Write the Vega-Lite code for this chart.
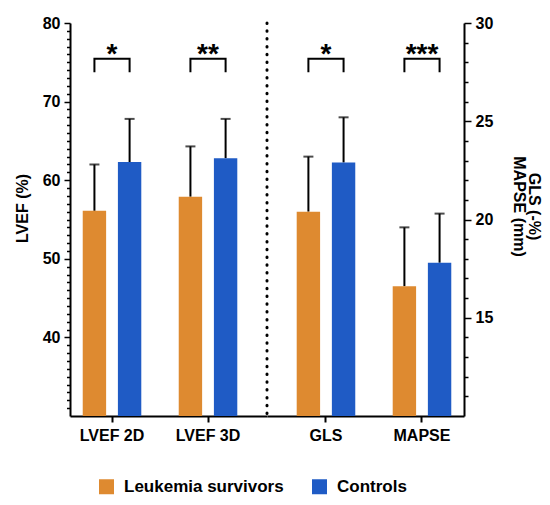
{
  "$schema": "https://vega.github.io/schema/vega-lite/v6.json",
  "padding": {"left": 14, "top": 15, "right": 5, "bottom": 5},
  "bounds": "flush",
  "spacing": 0,
  "datasets": {
    "left": [
      {"cat": "LVEF 2D", "group": "Leukemia survivors", "mean": 56.1, "upper": 62.0},
      {"cat": "LVEF 2D", "group": "Controls", "mean": 62.3, "upper": 67.8},
      {"cat": "LVEF 3D", "group": "Leukemia survivors", "mean": 57.9, "upper": 64.3},
      {"cat": "LVEF 3D", "group": "Controls", "mean": 62.8, "upper": 67.8}
    ],
    "right": [
      {"cat": "GLS", "group": "Leukemia survivors", "mean": 20.4, "upper": 23.2},
      {"cat": "GLS", "group": "Controls", "mean": 22.9, "upper": 25.2},
      {"cat": "MAPSE", "group": "Leukemia survivors", "mean": 16.6, "upper": 19.6},
      {"cat": "MAPSE", "group": "Controls", "mean": 17.8, "upper": 20.3}
    ],
    "leftBrackets": [
      {"cat": "LVEF 2D", "group": "Leukemia survivors", "y": 73.75, "step": 1},
      {"cat": "LVEF 2D", "group": "Leukemia survivors", "y": 75.45, "step": 2},
      {"cat": "LVEF 2D", "group": "Controls", "y": 75.45, "step": 3},
      {"cat": "LVEF 2D", "group": "Controls", "y": 73.75, "step": 4},
      {"cat": "LVEF 3D", "group": "Leukemia survivors", "y": 73.75, "step": 1},
      {"cat": "LVEF 3D", "group": "Leukemia survivors", "y": 75.45, "step": 2},
      {"cat": "LVEF 3D", "group": "Controls", "y": 75.45, "step": 3},
      {"cat": "LVEF 3D", "group": "Controls", "y": 73.75, "step": 4}
    ],
    "rightBrackets": [
      {"cat": "GLS", "group": "Leukemia survivors", "y": 27.5, "step": 1},
      {"cat": "GLS", "group": "Leukemia survivors", "y": 28.18, "step": 2},
      {"cat": "GLS", "group": "Controls", "y": 28.18, "step": 3},
      {"cat": "GLS", "group": "Controls", "y": 27.5, "step": 4},
      {"cat": "MAPSE", "group": "Leukemia survivors", "y": 27.5, "step": 1},
      {"cat": "MAPSE", "group": "Leukemia survivors", "y": 28.18, "step": 2},
      {"cat": "MAPSE", "group": "Controls", "y": 28.18, "step": 3},
      {"cat": "MAPSE", "group": "Controls", "y": 27.5, "step": 4}
    ],
    "leftStars": [
      {"cat": "LVEF 2D", "label": "*", "y": 74.9},
      {"cat": "LVEF 3D", "label": "**", "y": 74.9}
    ],
    "rightStars": [
      {"cat": "GLS", "label": "*", "y": 27.95},
      {"cat": "MAPSE", "label": "***", "y": 27.95}
    ]
  },
  "hconcat": [
    {
      "width": 197,
      "height": 393,
      "encoding": {
        "x": {
          "field": "cat",
          "type": "nominal",
          "title": null,
          "scale": {"domain": ["LVEF 2D", "LVEF 3D"], "paddingInner": 0.39, "paddingOuter": 0.221, "align": 0.3}
        },
        "xOffset": {
          "field": "group",
          "type": "nominal",
          "scale": {"domain": ["Leukemia survivors", "Controls"], "paddingInner": 0.335, "paddingOuter": 0}
        }
      },
      "layer": [
        {
          "data": {"name": "left"},
          "mark": {"type": "rule", "color": "black", "strokeWidth": 2},
          "encoding": {
            "y": {
              "field": "mean",
              "type": "quantitative",
              "title": "LVEF (%)",
              "scale": {"domain": [30, 80], "nice": false, "zero": false, "clamp": true},
              "axis": {
                "orient": "left",
                "values": [40, 50, 60, 70, 80],
                "tickSize": 6,
                "titlePadding": 12,
                "titleY": 185
              }
            },
            "y2": {"field": "upper"}
          }
        },
        {
          "data": {"name": "left"},
          "mark": {"type": "tick", "color": "black", "size": 10, "thickness": 2},
          "encoding": {
            "y": {
              "field": "upper",
              "type": "quantitative",
              "axis": {
                "orient": "left",
                "title": null,
                "labels": false,
                "domain": false,
                "tickSize": 3.5,
                "values": [31, 32, 33, 34, 35, 36, 37, 38, 39, 41, 42, 43, 44, 45, 46, 47, 48, 49, 51, 52, 53, 54, 55, 56, 57, 58, 59, 61, 62, 63, 64, 65, 66, 67, 68, 69, 71, 72, 73, 74, 75, 76, 77, 78, 79]
              }
            }
          }
        },
        {
          "data": {"name": "left"},
          "mark": {"type": "bar"},
          "encoding": {
            "y": {"field": "mean", "type": "quantitative", "axis": null},
            "color": {
              "field": "group",
              "type": "nominal",
              "scale": {"domain": ["Leukemia survivors", "Controls"], "range": ["#DE8A30", "#1F5BC5"]}
            }
          }
        },
        {
          "data": {"name": "leftBrackets"},
          "mark": {"type": "line", "color": "black", "strokeWidth": 2},
          "encoding": {
            "y": {"field": "y", "type": "quantitative", "axis": null},
            "order": {"field": "step"},
            "detail": {"field": "cat"}
          }
        },
        {
          "data": {"name": "leftStars"},
          "mark": {"type": "text", "fontSize": 28, "fontWeight": "bold", "baseline": "alphabetic", "color": "black"},
          "encoding": {
            "xOffset": null,
            "y": {"field": "y", "type": "quantitative", "axis": null},
            "text": {"field": "label"}
          }
        },
        {
          "data": {"values": [{}]},
          "mark": {"type": "rule", "color": "black", "strokeWidth": 3, "strokeCap": "round", "strokeDash": [0.5, 7.3]},
          "encoding": {"x": {"value": "width"}, "xOffset": null}
        }
      ],
      "resolve": {"axis": {"y": "independent"}}
    },
    {
      "width": 197,
      "height": 393,
      "encoding": {
        "x": {
          "field": "cat",
          "type": "nominal",
          "title": null,
          "scale": {"domain": ["GLS", "MAPSE"], "paddingInner": 0.39, "paddingOuter": 0.221, "align": 0.7}
        },
        "xOffset": {
          "field": "group",
          "type": "nominal",
          "scale": {"domain": ["Leukemia survivors", "Controls"], "paddingInner": 0.335, "paddingOuter": 0}
        }
      },
      "layer": [
        {
          "data": {"name": "right"},
          "mark": {"type": "rule", "color": "black", "strokeWidth": 2},
          "encoding": {
            "y": {
              "field": "mean",
              "type": "quantitative",
              "title": ["GLS (-%)", "MAPSE (mm)"],
              "scale": {"domain": [10, 30], "nice": false, "zero": false, "clamp": true},
              "axis": {
                "orient": "right",
                "values": [15, 20, 25, 30],
                "tickSize": 7,
                "titlePadding": 18,
                "titleLineHeight": 15,
                "titleY": 183
              }
            },
            "y2": {"field": "upper"}
          }
        },
        {
          "data": {"name": "right"},
          "mark": {"type": "tick", "color": "black", "size": 10, "thickness": 2},
          "encoding": {
            "y": {
              "field": "upper",
              "type": "quantitative",
              "axis": {
                "orient": "right",
                "title": null,
                "labels": false,
                "domain": false,
                "tickSize": 4,
                "values": [11, 12, 13, 14, 16, 17, 18, 19, 21, 22, 23, 24, 26, 27, 28, 29]
              }
            }
          }
        },
        {
          "data": {"name": "right"},
          "mark": {"type": "bar"},
          "encoding": {
            "y": {"field": "mean", "type": "quantitative", "axis": null},
            "color": {
              "field": "group",
              "type": "nominal",
              "scale": {"domain": ["Leukemia survivors", "Controls"], "range": ["#DE8A30", "#1F5BC5"]}
            }
          }
        },
        {
          "data": {"name": "rightBrackets"},
          "mark": {"type": "line", "color": "black", "strokeWidth": 2},
          "encoding": {
            "y": {"field": "y", "type": "quantitative", "axis": null},
            "order": {"field": "step"},
            "detail": {"field": "cat"}
          }
        },
        {
          "data": {"name": "rightStars"},
          "mark": {"type": "text", "fontSize": 28, "fontWeight": "bold", "baseline": "alphabetic", "color": "black"},
          "encoding": {
            "xOffset": null,
            "y": {"field": "y", "type": "quantitative", "axis": null},
            "text": {"field": "label"}
          }
        }
      ],
      "resolve": {"axis": {"y": "independent"}}
    }
  ],
  "config": {
    "font": "Liberation Sans",
    "view": {"stroke": null},
    "axis": {
      "grid": false,
      "domainColor": "black",
      "domainWidth": 2,
      "tickColor": "black",
      "tickWidth": 1.5,
      "labelColor": "black",
      "labelFont": "Liberation Sans",
      "labelFontSize": 16,
      "labelFontWeight": "bold",
      "labelPadding": 4,
      "titleColor": "black",
      "titleFont": "Liberation Sans",
      "titleFontSize": 16,
      "titleFontWeight": "bold",
      "titleLineHeight": 15
    },
    "axisX": {"labelAngle": 0, "tickSize": 6, "tickWidth": 2, "labelPadding": 5},
    "legend": {
      "orient": "none",
      "legendX": 28,
      "legendY": 455,
      "direction": "horizontal",
      "title": null,
      "padding": 0,
      "symbolType": "square",
      "symbolSize": 225,
      "symbolStrokeWidth": 0,
      "symbolOpacity": 1,
      "labelFont": "Liberation Sans",
      "labelFontSize": 17,
      "labelFontWeight": "bold",
      "labelColor": "black",
      "labelOffset": 9,
      "labelLimit": 400,
      "columnPadding": 27
    }
  }
}
